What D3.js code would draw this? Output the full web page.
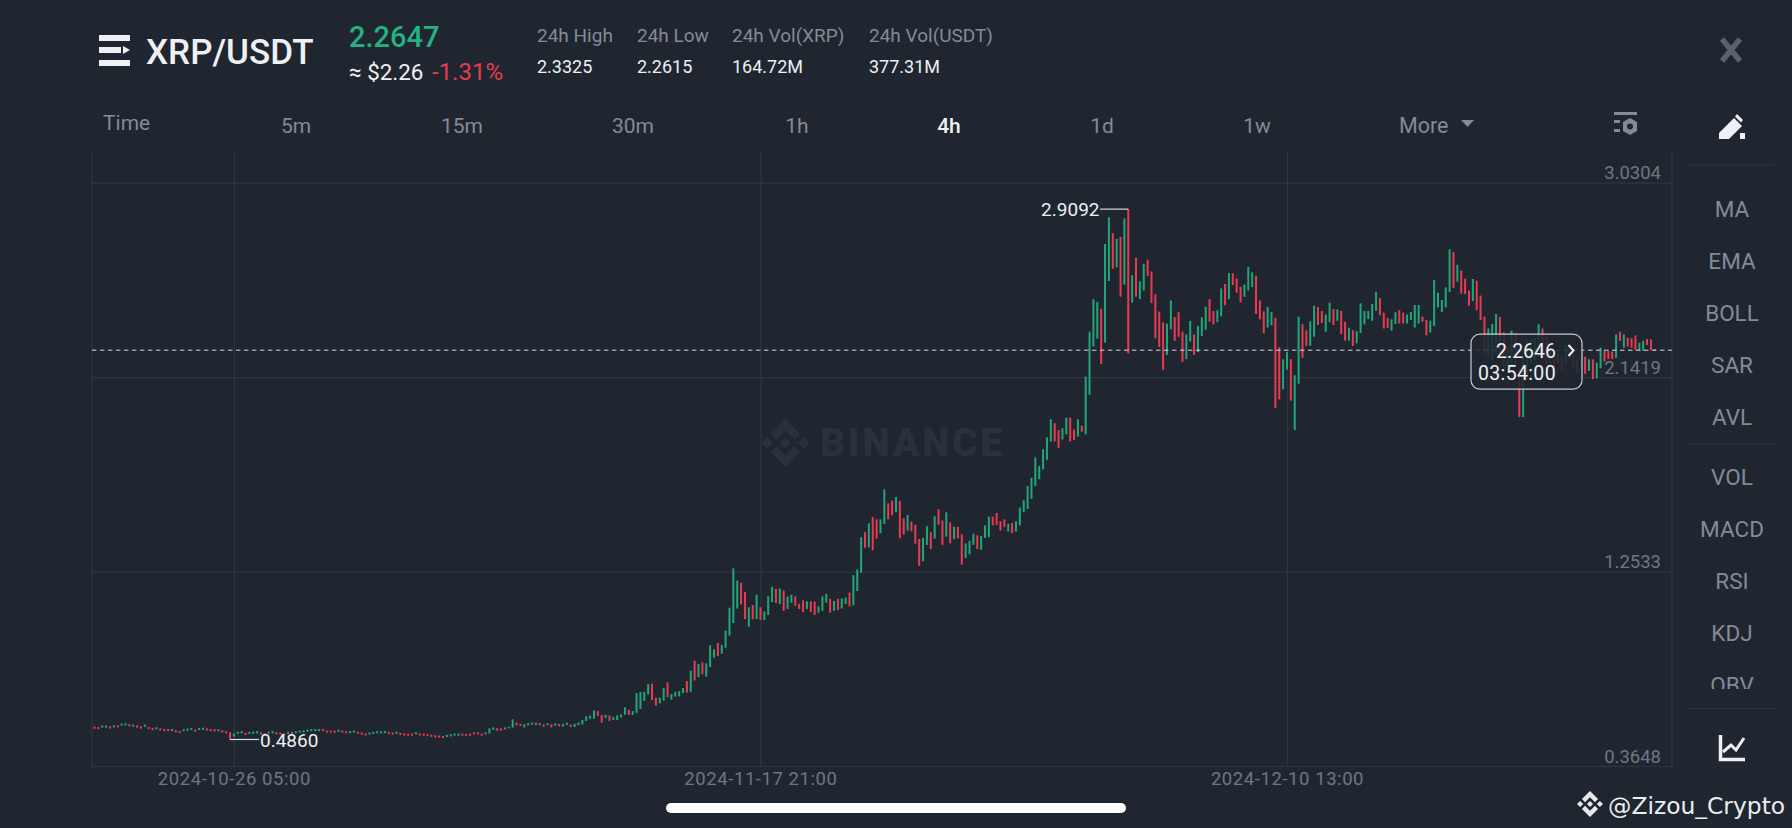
<!DOCTYPE html>
<html><head><meta charset="utf-8">
<script src="https://cdn.jsdelivr.net/npm/d3@7"></script>
<style>html,body{margin:0;padding:0;background:#1f2630;overflow:hidden}svg{display:block}text{font-family:Roboto,sans-serif}</style>
</head><body><svg id="c" width="1792" height="828"></svg>
<script>
// 4h candle extents in USDT, one entry per candle
const highs=[.545,.543,.550,.550,.546,.551,.551,.559,.560,.556,
.554,.550,.546,.554,.543,.539,.542,.537,.534,.534,
.534,.528,.525,.533,.536,.539,.531,.539,.540,.537,
.534,.533,.533,.528,.524,.519,.514,.522,.524,.516,
.521,.522,.524,.518,.514,.522,.524,.519,.518,.514,
.521,.522,.524,.527,.528,.531,.534,.534,.534,.534,
.527,.527,.527,.531,.527,.524,.525,.527,.522,.518,
.514,.518,.521,.524,.524,.525,.521,.518,.522,.516,
.514,.513,.513,.519,.514,.513,.511,.508,.505,.504,
.502,.507,.510,.513,.513,.513,.511,.513,.519,.519,
.513,.519,.537,.541,.538,.537,.541,.544,.578,.563,
.557,.555,.561,.564,.563,.561,.555,.560,.555,.560,
.557,.557,.563,.554,.558,.563,.575,.592,.595,.619,
.616,.598,.599,.596,.589,.596,.601,.633,.621,.616,
.698,.703,.704,.739,.741,.677,.677,.721,.747,.694,
.704,.707,.721,.753,.800,.846,.831,.838,.834,.916,
.898,.927,.918,.983,1.088,1.268,1.212,1.202,1.160,1.090,
1.100,1.148,1.090,1.071,1.140,1.184,1.174,1.175,1.166,1.140,
1.148,1.140,1.106,1.122,1.117,1.117,1.116,1.094,1.140,1.151,
1.129,1.119,1.129,1.131,1.135,1.157,1.237,1.263,1.410,1.433,
1.474,1.501,1.492,1.492,1.629,1.565,1.577,1.594,1.576,1.496,
1.512,1.481,1.467,1.402,1.407,1.460,1.433,1.506,1.538,1.486,
1.524,1.478,1.458,1.457,1.423,1.382,1.394,1.426,1.419,1.416,
1.464,1.504,1.504,1.521,1.483,1.492,1.471,1.475,1.483,1.545,
1.579,1.644,1.682,1.774,1.736,1.812,1.867,1.949,1.931,1.900,
1.908,1.956,1.956,1.902,1.949,1.920,2.144,2.349,2.497,2.485,
2.454,2.750,2.872,2.799,2.773,2.782,2.867,2.9092,2.607,2.687,
2.579,2.658,2.678,2.625,2.520,2.441,2.392,2.386,2.492,2.416,
2.438,2.349,2.337,2.398,2.336,2.375,2.415,2.463,2.498,2.444,
2.447,2.547,2.567,2.617,2.616,2.593,2.555,2.565,2.645,2.620,
2.605,2.492,2.442,2.463,2.439,2.413,2.278,2.223,2.256,2.224,
2.150,2.418,2.384,2.355,2.396,2.468,2.462,2.444,2.428,2.482,
2.453,2.451,2.444,2.395,2.367,2.357,2.352,2.479,2.444,2.444,
2.476,2.532,2.503,2.436,2.412,2.406,2.438,2.447,2.436,2.428,
2.439,2.471,2.471,2.418,2.403,2.399,2.585,2.527,2.494,2.552,
2.725,2.713,2.655,2.629,2.591,2.537,2.590,2.582,2.514,2.418,
2.364,2.384,2.430,2.416,2.345,2.281,2.354,2.342,2.174,2.235,
2.311,2.311,2.319,2.383,2.364,2.326,2.265,2.243,2.250,2.243,
2.291,2.281,2.250,2.224,2.243,2.235,2.223,2.223,2.208,2.276,
2.262,2.261,2.258,2.336,2.349,2.337,2.322,2.319,2.332,2.299,
2.307,2.316,2.314,2.270];
const lows=[.535,.533,.540,.540,.536,.541,.541,.549,.550,.546,
.544,.540,.536,.544,.533,.529,.532,.527,.524,.524,
.524,.518,.515,.523,.526,.529,.521,.529,.530,.527,
.524,.523,.523,.518,.514,.486,.499,.512,.514,.506,
.511,.512,.514,.508,.504,.512,.514,.509,.508,.504,
.511,.512,.514,.517,.518,.521,.524,.524,.524,.524,
.517,.517,.517,.521,.517,.514,.515,.517,.512,.508,
.504,.508,.511,.514,.514,.515,.511,.508,.512,.506,
.504,.503,.503,.509,.504,.503,.501,.498,.495,.494,
.492,.497,.500,.503,.503,.503,.501,.503,.509,.509,
.503,.509,.514,.529,.526,.526,.532,.537,.540,.551,
.548,.541,.551,.554,.551,.551,.544,.551,.541,.549,
.546,.545,.552,.543,.543,.551,.555,.570,.581,.581,
.593,.563,.584,.570,.575,.575,.587,.599,.598,.598,
.607,.625,.662,.692,.666,.640,.651,.663,.679,.668,
.682,.683,.698,.700,.704,.756,.771,.784,.773,.817,
.860,.867,.878,.905,.960,1.018,1.084,1.103,1.036,1.001,
1.035,1.036,1.032,1.032,1.055,1.114,1.110,1.105,1.074,1.082,
1.111,1.097,1.082,1.068,1.082,1.068,1.055,1.065,1.074,1.111,
1.065,1.074,1.077,1.084,1.105,1.094,1.099,1.164,1.248,1.362,
1.364,1.350,1.404,1.428,1.471,1.492,1.510,1.524,1.405,1.422,
1.440,1.437,1.381,1.279,1.300,1.375,1.356,1.404,1.467,1.375,
1.413,1.382,1.401,1.405,1.285,1.315,1.332,1.375,1.356,1.353,
1.407,1.411,1.464,1.466,1.440,1.457,1.436,1.429,1.436,1.464,
1.524,1.539,1.586,1.644,1.675,1.720,1.764,1.847,1.848,1.819,
1.857,1.880,1.848,1.854,1.870,1.892,1.880,2.061,2.281,2.317,
2.202,2.299,2.581,2.636,2.643,2.509,2.564,2.250,2.482,2.509,
2.498,2.538,2.604,2.480,2.319,2.279,2.174,2.243,2.360,2.307,
2.326,2.211,2.224,2.304,2.243,2.256,2.329,2.358,2.395,2.383,
2.393,2.419,2.470,2.498,2.562,2.527,2.483,2.509,2.537,2.553,
2.430,2.406,2.342,2.368,2.378,2.000,2.040,2.086,2.176,2.034,
1.900,2.112,2.230,2.285,2.285,2.326,2.380,2.389,2.349,2.393,
2.380,2.399,2.339,2.308,2.308,2.284,2.296,2.343,2.383,2.407,
2.399,2.445,2.425,2.364,2.367,2.354,2.384,2.387,2.387,2.387,
2.403,2.368,2.387,2.395,2.333,2.345,2.375,2.460,2.439,2.460,
2.530,2.550,2.578,2.523,2.521,2.468,2.489,2.447,2.403,2.250,
2.235,2.220,2.250,2.243,2.189,2.182,2.197,2.205,1.959,1.959,
2.144,2.205,2.220,2.235,2.265,2.197,2.197,2.174,2.205,2.174,
2.205,2.227,2.182,2.159,2.174,2.156,2.170,2.133,2.136,2.182,
2.212,2.224,2.224,2.230,2.307,2.276,2.281,2.276,2.265,2.264,
2.261,2.288,2.265,2.262];
// g = close above open, r = close below open
const directions=("r r g g r g r g g r g r r g r r g r r r g r r g g g r g g r r r g r r r g g g r "+
"g g g r r g g r r r g r g g g g g g g r r r r g r r g g r r r g g g g g r r g r "+
"r r r g r r r r r r r g g g g r r r r r r g g g r r g g g r r g g g r g r g r g "+
"r g g r g g g g g g r r g r g g g g r g g g g g r r g g r g g g g r g r g r g g "+
"g r g g g g g r r g r g r g g g r g r g g r r r g r r g g g r g r g g r g g g r "+
"g r r g g r r g r r g r r r g g r g r r g r g r r g g g r g g g r r r r g r g g "+
"g g g g g g g g r r g g r r g r g g g g r g g r g r g r g r g g r r r r r g g r "+
"r r g g r g g g r r g g r g r r r g g g r r r g g r r g g r g g r r g g r r g g "+
"r g r r g r g g g g g g r r r g g r r g g g g r r g g g g g g r g r r r g r r r "+
"g g g r r g g r r g g g g g r r g r g r g r r g r r g r g g r r r g r g r r r g "+
"g r r r").split(" ");
const tickPrices=[0.3648,1.2533,2.1419,3.0304];
const timeTicks=[36,172,308];
const timeLabels=["2024-10-26 05:00","2024-11-17 21:00","2024-12-10 13:00"];
const lastPrice=2.2646, lastCountdown="03:54:00";
const highMark={i:267,v:2.9092}, lowMark={i:35,v:0.4860};
const tabs=["5m","15m","30m","1h","4h","1d","1w"];
const tabCenters=[296,462,633,797,949,1102,1257];
const indicators=["MA","EMA","BOLL","SAR","AVL","VOL","MACD","RSI","KDJ","OBV"];
const indicatorY=[208.5,260.5,312.5,364.5,417,477,529,581,633,685];
const stats=[["24h High","2.3325",537],["24h Low","2.2615",637],["24h Vol(XRP)","164.72M",732],["24h Vol(USDT)","377.31M",869]];

const svg=d3.select("#c");
const GRAY="#848b97",DIM="#6f7682",WHITE="#eef0f3",GRID="#2f3641",GREEN="#21a67a",RED="#ea3a52",BG="#1f2630";
const L=92,R=1672,T=152,B=766;
const x=d3.scaleLinear().domain([36,308]).range([233.9,1287]);
const y=d3.scaleLinear().domain([0.3648,3.0304]).range([B,182.6]);
const txt=(s,xx,yy,size,fill,anchor="start",weight=400,parent=svg)=>parent.append("text").attr("x",xx).attr("y",yy).attr("font-size",size).attr("fill",fill).attr("text-anchor",anchor).attr("font-weight",weight).text(s);

// watermark
function logo(cx,cy,s,fill,parent=svg){
  const g=parent.append("g").attr("transform",`translate(${cx},${cy}) scale(${s})`).attr("fill",fill);
  ["M0,-50L31,-19L19,-7L0,-26L-19,-7L-31,-19Z","M0,50L31,19L19,7L0,26L-19,7L-31,19Z","M0,-12L12,0L0,12L-12,0Z","M-38,-12L-26,0L-38,12L-50,0Z","M38,-12L50,0L38,12L26,0Z"].forEach(d=>g.append("path").attr("d",d));
}
logo(785.5,443,.48,"#2a313d");
txt("BINANCE",820,456,38.5,"#2a313d","start",900).attr("textLength",182).attr("lengthAdjust","spacing");

// axes
const gy=svg.append("g").attr("transform",`translate(${R},0)`).call(d3.axisRight(y).tickValues(tickPrices).tickSize(-(R-L)).tickFormat(d3.format(".4f")));
gy.select(".domain").remove();
gy.selectAll("line").attr("stroke",GRID).attr("stroke-width",1.2);
gy.selectAll("text").attr("x",-11).attr("dy",-4).attr("text-anchor","end").attr("font-size",18.5).attr("fill",DIM).style("font-family","Roboto");
const gx=svg.append("g").attr("transform",`translate(0,${B})`).call(d3.axisBottom(x).tickValues(timeTicks).tickSize(-(B-T)).tickFormat((d,i)=>timeLabels[i]));
gx.select(".domain").remove();
gx.selectAll("line").attr("stroke",GRID).attr("stroke-width",1.2);
gx.selectAll("text").attr("y",6).attr("dy",".71em").attr("font-size",18.5).attr("letter-spacing",.57).attr("fill",DIM).style("font-family","Roboto");
[L,R].forEach(v=>svg.append("line").attr("x1",v).attr("x2",v).attr("y1",T).attr("y2",B+3).attr("stroke",GRID).attr("stroke-width",1.2));

// candles
svg.append("g").selectAll("rect").data(highs).join("rect")
  .attr("x",(d,i)=>x(i)-1).attr("width",2)
  .attr("y",d=>y(d)).attr("height",(d,i)=>y(lows[i])-y(d))
  .attr("fill",(d,i)=>directions[i]==="g"?GREEN:RED);

// high and low markers
const mark="#d9dce0";
svg.append("path").attr("fill","none").attr("stroke",mark).attr("stroke-width",1.2).attr("d",`M${x(highMark.i)},${y(highMark.v)}H1100`);
txt(d3.format(".4f")(highMark.v),1099.5,216,19,WHITE,"end");
svg.append("path").attr("fill","none").attr("stroke",mark).attr("stroke-width",1.2).attr("d",`M${x(lowMark.i)},${y(lowMark.v)}H259`);
txt(d3.format(".4f")(lowMark.v),260,747,19,WHITE);

// last price line and box
svg.append("line").attr("x1",L).attr("x2",R).attr("y1",y(lastPrice)).attr("y2",y(lastPrice)).attr("stroke","#d9dce0").attr("stroke-width",1).attr("stroke-dasharray","4.5 3.5");
svg.append("rect").attr("x",1471).attr("y",334.2).attr("width",111).attr("height",55).attr("rx",9).attr("fill",BG).attr("fill-opacity",.86).attr("stroke","#c9ccd1").attr("stroke-width",1.2);
txt(d3.format(".4f")(lastPrice),1556,358,19.5,WHITE,"end");
txt(lastCountdown,1556,380,19.5,WHITE,"end").attr("letter-spacing",.35);
svg.append("path").attr("d","M1568.5,345L1573.5,350.5L1568.5,356").attr("fill","none").attr("stroke",WHITE).attr("stroke-width",2);

// header
const hb=svg.append("g").attr("fill",WHITE);
[[99,35,31,6],[99,47,22,6],[99,60,31,6]].forEach(a=>hb.append("rect").attr("x",a[0]).attr("y",a[1]).attr("width",a[2]).attr("height",a[3]));
hb.append("path").attr("d","M123,46L130,50L123,54Z");
txt("XRP/USDT",146,63.5,35,WHITE,"start",500);
txt("2.2647",349,46.5,29,"#24b380","start",500);
txt("≈ $2.26",349,80,22.4,WHITE);
txt("-1.31%",432,80,24,RED);
stats.forEach(s=>{txt(s[0],s[2],42,19,GRAY);txt(s[1],s[2],73,18,WHITE);});

// tabs
txt("Time",103,130,21,GRAY);
tabs.forEach((t,i)=>txt(t,tabCenters[i],133,21,t==="4h"?WHITE:GRAY,"middle",t==="4h"?500:400));
txt("More",1399,133,21.5,GRAY);
svg.append("path").attr("d","M1461,120H1474L1467.5,127Z").attr("fill",GRAY);
const cfg=svg.append("g").attr("fill",GRAY);
cfg.append("rect").attr("x",1614).attr("y",112).attr("width",23).attr("height",3);
cfg.append("rect").attr("x",1614).attr("y",120).attr("width",6).attr("height",3);
cfg.append("rect").attr("x",1614).attr("y",129).attr("width",6).attr("height",3);
cfg.append("path").attr("fill-rule","evenodd").attr("d","M1630,118L1637,122V131L1630,135L1623,131V122ZM1630,123.5A3,3 0 1 0 1630,129.5A3,3 0 1 0 1630,123.5Z");

// side toolbar
svg.append("path").attr("d","M1722,39L1740,61M1740,39L1722,61").attr("stroke","#5a6270").attr("stroke-width",5.5);
const pen=svg.append("g").attr("fill",WHITE);
pen.append("path").attr("d","M1719,139V133L1734,118L1742,126L1729,139Z");
pen.append("path").attr("d","M1737,114L1743,120L1741,122.5L1735,116.5Z");
pen.append("rect").attr("x",1740).attr("y",133).attr("width",5).attr("height",6);
[165,444,708.5].forEach(v=>svg.append("line").attr("x1",1689).attr("x2",1774).attr("y1",v).attr("y2",v).attr("stroke",GRID).attr("stroke-width",1.2));
const clip=svg.append("clipPath").attr("id","ind").append("rect").attr("x",1680).attr("y",180).attr("width",110).attr("height",509);
const gi=svg.append("g").attr("clip-path","url(#ind)");
indicators.forEach((t,i)=>txt(t,1732,indicatorY[i]+2.3,22.5,GRAY,"middle",400,gi).attr("dominant-baseline","middle"));
svg.append("path").attr("d","M1720.5,735V759.5H1745").attr("fill","none").attr("stroke",WHITE).attr("stroke-width",3.5);
svg.append("path").attr("d","M1723,752L1731,745L1736,750L1744,738").attr("fill","none").attr("stroke",WHITE).attr("stroke-width",3);

// bottom
svg.append("rect").attr("x",666).attr("y",803).attr("width",460).attr("height",10).attr("rx",5).attr("fill","#ffffff");
logo(1590,804,.26,"#e6e7e9");
txt("@Zizou_Crypto",1608,814,23.4,"#eceef0").style("font-family","'DejaVu Sans'");
</script></body></html>
